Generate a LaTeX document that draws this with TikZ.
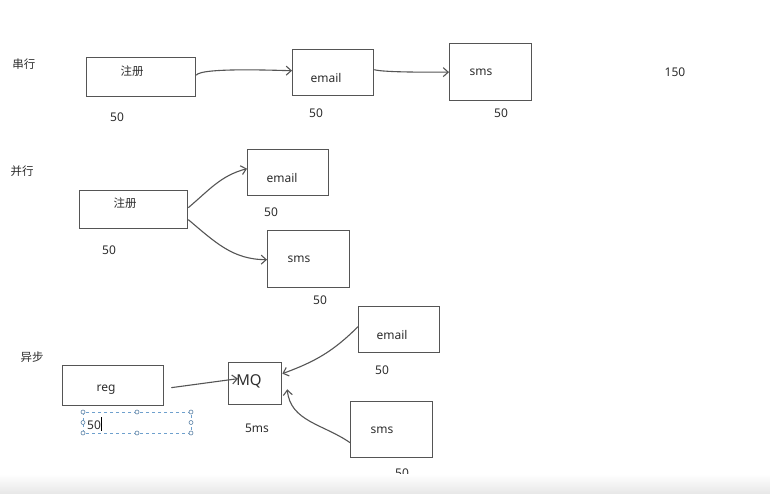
\documentclass[tikz,border=0pt]{standalone}
\usepackage{fontspec}
\setmainfont{Noto Sans}
\newfontfamily\cjk{Noto Sans CJK SC}
\usetikzlibrary{positioning}
\usetikzlibrary{arrows.meta}
\definecolor{inkgray}{RGB}{85,85,85}
\definecolor{txtgray}{RGB}{45,45,45}
\definecolor{selblue}{RGB}{110,160,205}

\tikzset{
  box/.style={draw=inkgray, line width=1.3pt, inner sep=0pt, anchor=north west},
  txt/.style={font=\fontsize{12}{14}\selectfont, text=txtgray, inner sep=0pt},
  cn/.style={font=\cjk\fontsize{11.5}{13}\selectfont, text=txtgray, inner sep=0pt},
  link/.style={draw=inkgray, line width=1.1pt, -{Straight Barb[length=5pt,width=9pt]}},
  handle/.style={draw=selblue!80!black, fill=white, line width=0.6pt},
}

\begin{document}
\begin{tikzpicture}[x=1pt,y=-1pt]
		\useasboundingbox (0,0) rectangle (770,493);
		\fill[white] (0,0) rectangle (770,493);

		% serial
		\node[cn] (serial) at (24,64) {串行};
		\node[box, minimum width=109pt, minimum height=39pt] (zc1) at (86,57) {};
		\node[box, minimum width=81pt, minimum height=46pt] (em1) at (292,49) {};
		\node[box, minimum width=82pt, minimum height=57pt] (sms1) at (449,43) {};
		\node[cn] (zc1t) at (132,71) {注册};
		\node[txt] (em1t) at (326,78) {email};
		\node[txt] (sms1t) at (481,72) {sms};
		\node[txt] (zc1n) at (117,117) {50};
		\node[txt] (em1n) at (316,113) {50};
		\node[txt] (sms1n) at (501,113) {50};
		\node[txt] (total) at (675,72) {150};
		\draw[link] ([yshift=2pt]zc1.east) to[out=60,in=180,looseness=0.25] ([yshift=2pt]em1.west);
		\draw[link] ([yshift=3pt]em1.east) to[out=-20,in=180,looseness=0.3] (sms1.west);

		% parallel
		\node[cn] (parallel) at (22,171) {并行};
		\node[box, minimum width=108pt, minimum height=38pt] (zc2) at (79,190) {};
		\node[box, minimum width=81pt, minimum height=46pt] (em2) at (247,149) {};
		\node[box, minimum width=82pt, minimum height=57pt] (sms2) at (267,230) {};
		\node[cn] (zc2t) at (125,203) {注册};
		\node[txt] (em2t) at (282,178) {email};
		\node[txt] (sms2t) at (299,259) {sms};
		\node[txt] (zc2n) at (109,250) {50};
		\node[txt] (em2n) at (271,212) {50};
		\node[txt] (sms2n) at (320,300) {50};
		\draw[link] ([yshift=2pt]zc2.east) to[out=40,in=195] ([yshift=4pt]em2.west);
		\draw[link] ([yshift=-10pt]zc2.east) to[out=-40,in=180] ([yshift=-0.5pt]sms2.west);

		% async
		\node[cn] (async) at (32,357) {异步};
		\node[box, minimum width=101pt, minimum height=40pt] (reg) at (62,365) {};
		\node[box, minimum width=53pt, minimum height=42pt] (mq) at (228,362) {};
		\node[box, minimum width=81pt, minimum height=46pt] (em3) at (358,306) {};
		\node[box, minimum width=82pt, minimum height=56pt] (sms3) at (350,401) {};
		\node[txt] (regt) at (106,390) {reg};
		\node[txt, font=\fontsize{15}{17}\selectfont] (mqt) at (249,381) {MQ};
		\node[txt] (em3t) at (392,335) {email};
		\node[txt] (sms3t) at (382,430) {sms};
		\node[txt] (mqn) at (257,428) {5ms};
		\node[txt] (em3n) at (382,370) {50};
		\node[txt] (sms3n) at (402,473) {50};
		\node[txt] (regn) at (94,425) {50};
		\draw[link] ([xshift=7pt,yshift=-2pt]reg.east) -- ([xshift=10pt,yshift=5pt]mq.west);
		\draw[link] ([yshift=3pt]em3.west) to[out=225,in=20] ([yshift=10pt]mq.east);
		\draw[link] ([yshift=-13pt]sms3.west) to[out=145,in=-85] ([xshift=5pt,yshift=16pt]mq.south east);

		% text selection frame
		\draw[selblue, dashed, line width=0.7pt] (83,412) rectangle (191,433);
		\foreach \hx/\hy in {83/412,137/412,191/412,83/433,137/433,191/433,83/422.5,191/422.5}
			\draw[handle] (\hx,\hy) circle (2pt);
		\draw[black, line width=0.6pt] (101,417) -- (101,431);

		% bottom edge
		\shade[top color=white, bottom color=black!9] (0,474) rectangle (770,493);
	\end{tikzpicture}
\end{document}
